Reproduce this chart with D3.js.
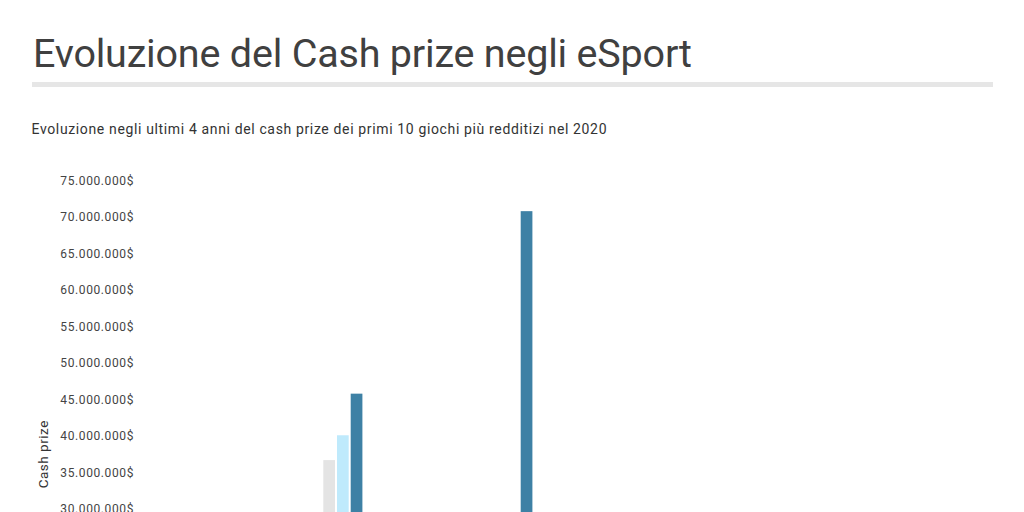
<!DOCTYPE html>
<html>
<head>
<meta charset="utf-8">
<script src="https://cdn.jsdelivr.net/npm/d3@7"></script>
<style>
  html, body { margin: 0; padding: 0; overflow: hidden; background: #fff; }
  svg { display: block; font-family: Roboto, "Noto Sans", sans-serif; }
</style>
</head>
<body>
<svg id="chart" width="1024" height="900"></svg>
<script>
const titleText = "Evoluzione del Cash prize negli eSport";
const subtitleText = "Evoluzione negli ultimi 4 anni del cash prize dei primi 10 giochi più redditizi nel 2020";
const yAxisTitle = "Cash prize";

const games = [
  "Counter-Strike: Global Offensive",
  "League of Legends",
  "Dota 2",
  "Arena of Valor",
  "Fortnite",
  "PUBG Mobile",
  "Call of Duty: Modern Warfare",
  "Rainbow Six Siege",
  "Overwatch",
  "PLAYERUNKNOWN'S BATTLEGROUNDS"
];
const years = ["2017", "2018", "2019", "2020"];
const yearColors = ["#e4e4e4", "#bfeafc", "#3e81a5", "#1f4e6b"];

const prize2017 = [18600000, 14100000, 36700000,  900000,   500000,        0, 4200000, 2000000, 3500000, 2800000];
const prize2018 = [21600000, 14400000, 40100000, 6000000, 20000000,   500000, 6000000, 3500000, 5000000, 9500000];
const prize2019 = [22800000, 10000000, 45800000, 7000000, 70800000,  6000000, 5800000, 6900000, 5700000, 6200000];
const prize2020 = [14600000,  8000000,  8600000, 7500000,  7200000,  6500000, 5500000, 4500000, 3800000, 3200000];
const seriesValues = [prize2017, prize2018, prize2019, prize2020];

const yTicks = [0, 5000000, 10000000, 15000000, 20000000, 25000000, 30000000, 35000000,
                40000000, 45000000, 50000000, 55000000, 60000000, 65000000, 70000000, 75000000];

const svg = d3.select("#chart");

// Header
svg.append("text")
  .attr("x", 33).attr("y", 67)
  .attr("font-size", 39.5).attr("font-weight", 400)
  .attr("fill", "#404040")
  .attr("textLength", 659).attr("lengthAdjust", "spacing")
  .text(titleText);

svg.append("rect")
  .attr("x", 32).attr("y", 82).attr("width", 961).attr("height", 5)
  .attr("fill", "#e6e6e6");

svg.append("text")
  .attr("x", 31.5).attr("y", 134)
  .attr("font-size", 14).attr("font-weight", 400)
  .attr("fill", "#333")
  .attr("textLength", 575).attr("lengthAdjust", "spacing")
  .text(subtitleText);

// Scales
const x0 = d3.scaleBand().domain(games).range([137.2, 987.2]).padding(0);
const x1 = d3.scaleBand().domain(years).range([16.1, 68.9]).paddingInner(2 / 13.7).paddingOuter(0);
const y = d3.scaleLinear().domain([0, 75000000]).range([728, 180.5]);
const color = d3.scaleOrdinal().domain(years).range(yearColors);

const itLocale = d3.formatLocale({ decimal: ",", thousands: ".", grouping: [3], currency: ["", "$"] });
const fmt = v => itLocale.format(",.0f")(v) + "$";

// Y axis
const yAxis = d3.axisLeft(y).tickValues(yTicks).tickFormat(fmt).tickSize(0).tickPadding(0);
const gy = svg.append("g").attr("transform", "translate(134,0)").call(yAxis);
gy.select(".domain").remove();
gy.selectAll("text")
  .attr("font-family", "Roboto, sans-serif")
  .attr("font-size", 12)
  .attr("letter-spacing", "0.6px")
  .attr("fill", "#444");

svg.append("text")
  .attr("transform", `translate(47.5,${(y(0) + y(75000000)) / 2}) rotate(-90)`)
  .attr("text-anchor", "middle")
  .attr("font-size", 13.5)
  .attr("letter-spacing", "0.5px")
  .attr("fill", "#333")
  .text(yAxisTitle);

// Bars
const rows = games.map((g, i) => ({ game: g, vals: years.map((yr, j) => ({ year: yr, value: seriesValues[j][i] })) }));

const groups = svg.append("g").selectAll("g")
  .data(rows).join("g")
  .attr("transform", d => `translate(${x0(d.game)},0)`);

groups.selectAll("rect")
  .data(d => d.vals).join("rect")
  .attr("x", d => x1(d.year))
  .attr("width", x1.bandwidth())
  .attr("y", d => y(d.value))
  .attr("height", d => y(0) - y(d.value))
  .attr("fill", d => color(d.year));

// X axis labels (below the visible area)
const xAxis = d3.axisBottom(x0).tickSize(0).tickPadding(8);
const gx = svg.append("g").attr("transform", `translate(0,${y(0)})`).call(xAxis);
gx.select(".domain").attr("stroke", "#ccc");
gx.selectAll("text").attr("font-size", 9).attr("fill", "#444")
  .attr("transform", "rotate(-30)").attr("text-anchor", "end");

// Legend
const legend = svg.append("g").attr("transform", `translate(${(137 + 987) / 2 - 120},${y(0) + 110})`);
years.forEach((yr, i) => {
  const g = legend.append("g").attr("transform", `translate(${i * 65},0)`);
  g.append("rect").attr("width", 12).attr("height", 12).attr("fill", color(yr));
  g.append("text").attr("x", 18).attr("y", 10).attr("font-size", 12).attr("fill", "#444").text(yr);
});
</script>
</body>
</html>
